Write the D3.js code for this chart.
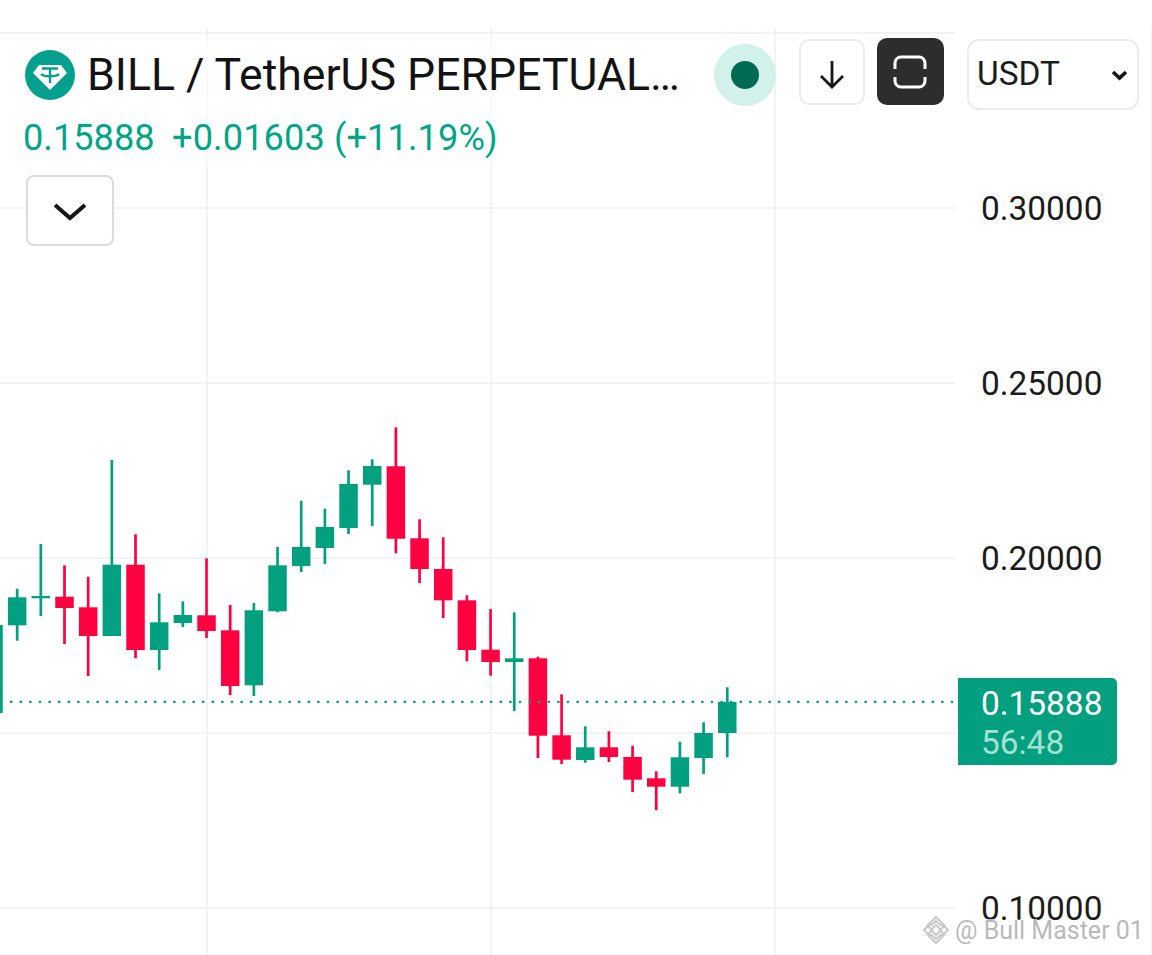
<!DOCTYPE html>
<html>
<head>
<meta charset="utf-8">
<script src="https://cdn.jsdelivr.net/npm/d3@7"></script>
<style>
  html, body { margin: 0; padding: 0; background: #fff; overflow: hidden; }
  svg { display: block; }
  text { font-family: Roboto, sans-serif; }
</style>
</head>
<body>
<div id="chart"></div>
<script>
// candles, oldest first (prices)
const opens  = [0.15571,0.18077,0.18849,0.18894,0.18591,0.17771,0.19809,0.17371,0.18143,0.18363,0.17934,0.16363,0.18477,0.19771,0.20286,0.20857,0.22094,0.22620,0.20563,0.19686,0.18791,0.17380,0.17029,0.17134,0.14934,0.14229,0.14591,0.14314,0.13706,0.13466,0.14286,0.15000];
const highs  = [0.18086,0.19123,0.20400,0.19791,0.19466,0.22800,0.20677,0.18991,0.18763,0.19991,0.18657,0.18714,0.20314,0.21637,0.21409,0.22506,0.22820,0.23734,0.21106,0.20591,0.18934,0.18543,0.18449,0.17180,0.16106,0.15191,0.15049,0.14637,0.13906,0.14751,0.15306,0.16306];
const lows   = [0.15571,0.17637,0.18343,0.17543,0.16629,0.17771,0.17134,0.16800,0.18029,0.17714,0.16086,0.16057,0.18449,0.19600,0.19829,0.20686,0.20914,0.20134,0.19286,0.18286,0.17049,0.16637,0.15629,0.14286,0.14114,0.14151,0.14171,0.13314,0.12800,0.13277,0.13829,0.14306];
const closes = [0.18086,0.18877,0.18914,0.18571,0.17771,0.19809,0.17371,0.18163,0.18371,0.17914,0.16343,0.18506,0.19791,0.20314,0.20886,0.22114,0.22629,0.20551,0.19686,0.18791,0.17371,0.17029,0.17134,0.14923,0.14237,0.14591,0.14314,0.13666,0.13466,0.14306,0.15000,0.15888];

const priceTicks = [0.10, 0.20, 0.25, 0.30];
const priceGrid = [0.10, 0.15, 0.20, 0.25, 0.30, 0.35];
const timeGrid = [9, 21, 33];
const lastPrice = 0.15888;
const countdown = "56:48";
const titleText = "BILL / TetherUS PERPETUAL…";
const changeText = "+0.01603 (+11.19%)";
const quoteUnit = "USDT";
const watermark = "@ Bull Master 01";

const outerWidth = 1152;
const outerHeight = 955;
const plotRight = 955;
const green = "#02a07f";
const red = "#ff0040";
const gridColor = "#f3f3f3";

const svg = d3.select("#chart").append("svg")
    .attr("width", outerWidth)
    .attr("height", outerHeight);

const xScale = d3.scaleLinear().domain([0, 33]).range([-6.5, 774.6]);
const yScale = d3.scaleLinear().domain([0.10, 0.30]).range([908, 208]);

//grid
const grid = svg.append("g");
grid.selectAll(".hgrid").data(priceGrid).join("line")
    .attr("x1", 0).attr("x2", plotRight)
    .attr("y1", d => yScale(d)).attr("y2", d => yScale(d))
    .attr("stroke", gridColor).attr("stroke-width", 2);
grid.selectAll(".vgrid").data(timeGrid).join("line")
    .attr("x1", d => xScale(d) + 0.5).attr("x2", d => xScale(d) + 0.5)
    .attr("y1", 28).attr("y2", outerHeight)
    .attr("stroke", gridColor).attr("stroke-width", 2);
svg.append("line")
    .attr("x1", 1151.5).attr("x2", 1151.5).attr("y1", 28).attr("y2", outerHeight)
    .attr("stroke", gridColor).attr("stroke-width", 1.5);
// the legend sits on a half see-through layer, grid is paler under it
svg.append("rect")
    .attr("x", 20).attr("y", 40).attr("width", 480).attr("height", 125)
    .attr("fill", "#fff").attr("fill-opacity", 0.6);

//price axis
const yAxis = svg.append("g")
    .attr("transform", "translate(981,1)")
    .call(d3.axisRight(yScale).tickValues(priceTicks).tickFormat(d3.format(".5f")).tickSize(0).tickPadding(0));
yAxis.select(".domain").remove();
yAxis.selectAll("text")
    .attr("font-size", 33.4)
    .attr("font-family", "Roboto, sans-serif")
    .attr("fill", "#1c1c1c");

//candles
const candles = d3.range(opens.length);
const bodyWidth = 18.5;
svg.append("g").selectAll("line").data(candles).join("line")
    .attr("x1", i => xScale(i)).attr("x2", i => xScale(i))
    .attr("y1", i => yScale(highs[i])).attr("y2", i => yScale(lows[i]))
    .attr("stroke", i => closes[i] >= opens[i] ? green : red)
    .attr("stroke-width", 2.7);
svg.append("g").selectAll("rect").data(candles).join("rect")
    .attr("x", i => xScale(i) - bodyWidth / 2)
    .attr("width", bodyWidth)
    .attr("y", i => yScale(Math.max(opens[i], closes[i])))
    .attr("height", i => Math.abs(yScale(opens[i]) - yScale(closes[i])))
    .attr("fill", i => closes[i] >= opens[i] ? green : red);

//last price line + label
svg.append("line")
    .attr("x1", 10).attr("x2", plotRight)
    .attr("y1", yScale(lastPrice)).attr("y2", yScale(lastPrice))
    .attr("stroke", green).attr("stroke-width", 2.4)
    .attr("stroke-dasharray", "2.4 7.2");
svg.append("path")
    .attr("d", "M958,678H1112a5,5 0 0 1 5,5V760a5,5 0 0 1 -5,5H958Z")
    .attr("fill", green);
svg.append("text").attr("x", 981).attr("y", 715)
    .attr("font-size", 33.4).attr("fill", "#fff")
    .text(d3.format(".5f")(lastPrice));
svg.append("text").attr("x", 981).attr("y", 754)
    .attr("font-size", 33.4).attr("fill", "#a5e0d2")
    .text(countdown);

//header
svg.append("circle").attr("cx", 50).attr("cy", 75).attr("r", 25).attr("fill", "#04a08f");
svg.append("path")
    .attr("d", "M39,65H61L67,73L50,90L33,73Z")
    .attr("fill", "#fff");
svg.append("path")
    .attr("d", "M42,68.5H58M50,68.5V83M41,74C44,77 56,77 59,74")
    .attr("fill", "none").attr("stroke", "#04a08f").attr("stroke-width", 2.4);
svg.append("text").attr("x", 87).attr("y", 90)
    .attr("font-size", 44.6).attr("fill", "#131313")
    .text(titleText);
svg.append("text").attr("x", 23).attr("y", 150)
    .attr("font-size", 36.2).attr("fill", "#01a687")
    .text(d3.format(".5f")(lastPrice));
svg.append("text").attr("x", 172).attr("y", 150)
    .attr("font-size", 36.2).attr("fill", "#01a687")
    .attr("letter-spacing", 0.1)
    .text(changeText);

//market status dot
svg.append("circle").attr("cx", 745).attr("cy", 75).attr("r", 31).attr("fill", "#d2f1ea");
svg.append("circle").attr("cx", 745).attr("cy", 75).attr("r", 14).attr("fill", "#006b55");

//buttons
function button(x, y, w, h, r) {
    return svg.append("rect")
        .attr("x", x).attr("y", y).attr("width", w).attr("height", h).attr("rx", r)
        .attr("fill", "#fff").attr("stroke", "#ececec").attr("stroke-width", 2);
}
button(800, 40, 64, 64, 9);
svg.append("path").attr("d", "M832,61V86M821,76L832,87L843,76")
    .attr("fill", "none").attr("stroke", "#161616").attr("stroke-width", 2.8);
svg.append("rect")
    .attr("x", 877).attr("y", 38).attr("width", 67).attr("height", 67).attr("rx", 10)
    .attr("fill", "#2d2d2d");
svg.append("path")
    .attr("d", "M895,69V63a6,6 0 0 1 6,-6H919a6,6 0 0 1 6,6V69M895,77V81a6,6 0 0 0 6,6H919a6,6 0 0 0 6,-6V77")
    .attr("fill", "none").attr("stroke", "#fff").attr("stroke-width", 3);
button(968, 40, 170, 69, 11);
svg.append("text").attr("x", 977).attr("y", 85)
    .attr("font-size", 33.4).attr("fill", "#1c1c1c").text(quoteUnit);
svg.append("path").attr("d", "M1113,72L1119.5,78L1126,72")
    .attr("fill", "none").attr("stroke", "#161616").attr("stroke-width", 3.6);
button(27, 176, 86, 69, 7).attr("stroke", "#dcdcdc");
svg.append("path").attr("d", "M55,205L70,218L85,205")
    .attr("fill", "none").attr("stroke", "#161616").attr("stroke-width", 4);

//watermark
svg.append("g").attr("fill", "#fff").attr("fill-opacity", 0.6).attr("stroke", "#c8c8c8").attr("stroke-width", 2)
    .selectAll("path")
    .data(["M936,925L941,930L936,935L931,930Z", "M936,917L944,925L940.5,925L936,921L931.5,925L928,925Z",
           "M928,935L936,943L944,935L940.5,935L936,939L931.5,935Z",
           "M924,930L928,926L932,930L928,934Z", "M940,930L944,926L948,930L944,934Z"])
    .join("path").attr("d", d => d);
svg.append("text").attr("x", 955).attr("y", 939)
    .attr("font-size", 25).attr("font-family", "'Open Sans', sans-serif")
    .attr("fill", "#b0b0b0").attr("fill-opacity", 0.9)
    .attr("stroke", "#fff").attr("stroke-opacity", 0.7).attr("stroke-width", 2)
    .attr("paint-order", "stroke")
    .text(watermark);
</script>
</body>
</html>
